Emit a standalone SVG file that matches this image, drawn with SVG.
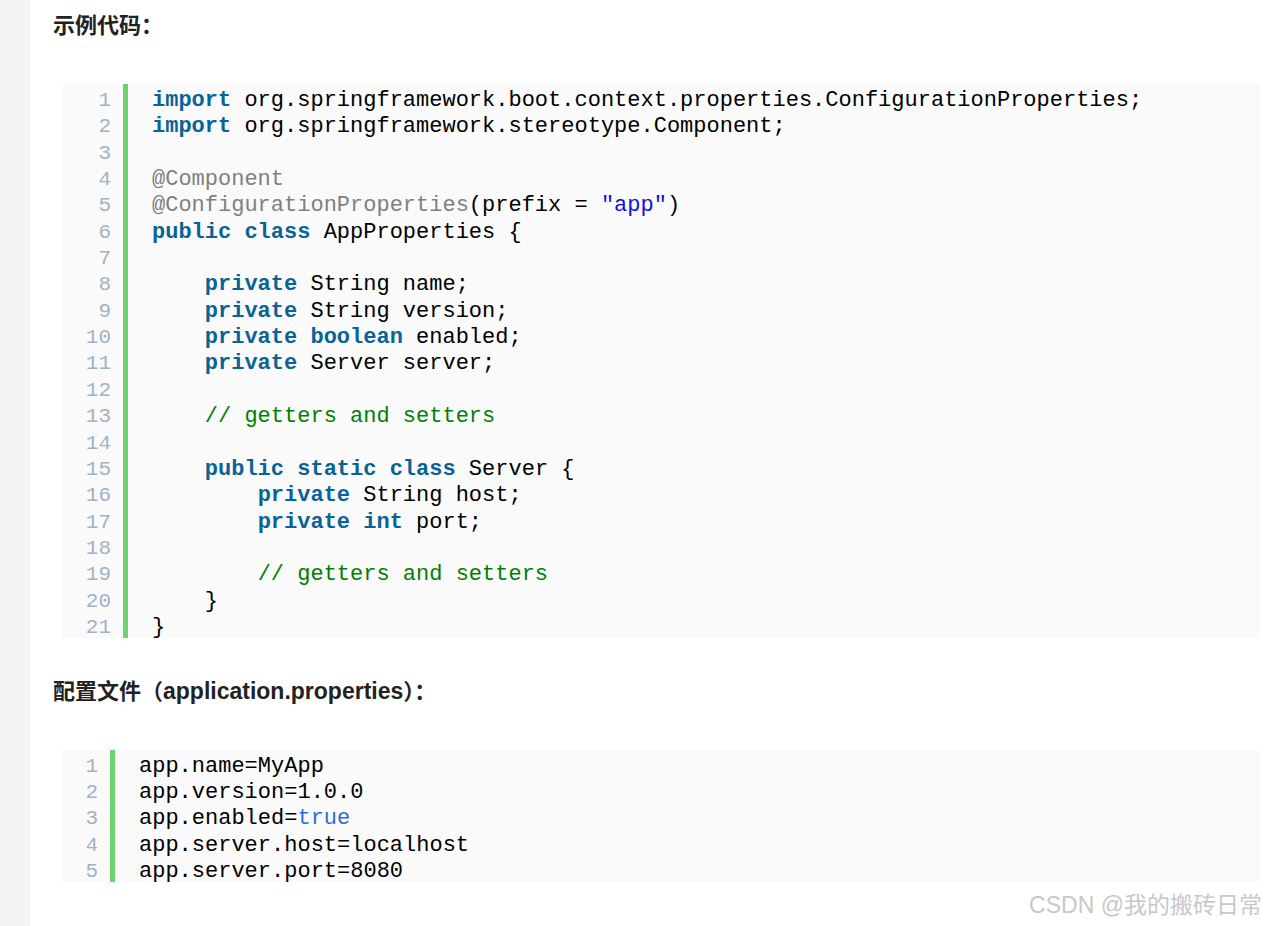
<svg xmlns="http://www.w3.org/2000/svg" width="1267" height="926" viewBox="0 0 1267 926">
<style>
.h{font-family:"Noto Sans CJK SC","Liberation Sans",sans-serif;font-weight:bold;font-size:22px;fill:#222}
.c{font-family:"Liberation Mono","DejaVu Sans Mono",monospace;font-size:22px;fill:#000;white-space:pre}
.n{font-family:"Liberation Mono",monospace;font-size:21px;fill:#9fb3c5;text-anchor:end}
.k{fill:#0a6395;font-weight:bold}
.a{fill:#808080}
.s{fill:#1010e0}
.g{fill:#008000}
.t{fill:#2a6fd0}
</style>
<rect width="1267" height="926" fill="#fff"/>
<rect width="30" height="926" fill="#f3f3f3"/>
<g id="heading1"><text class="h" x="53" y="33">示例代码：</text></g>
<g id="code1">
<rect x="62" y="84" width="1198" height="554" fill="#fafafa"/>
<rect x="123" y="84" width="5" height="554" fill="#6ed36e"/>
<g class="n">
<text x="111" y="106">1</text><text x="111" y="132">2</text><text x="111" y="159">3</text><text x="111" y="185">4</text><text x="111" y="211">5</text><text x="111" y="238">6</text><text x="111" y="264">7</text><text x="111" y="290">8</text><text x="111" y="317">9</text><text x="111" y="343">10</text><text x="111" y="369">11</text><text x="111" y="396">12</text><text x="111" y="422">13</text><text x="111" y="449">14</text><text x="111" y="475">15</text><text x="111" y="501">16</text><text x="111" y="528">17</text><text x="111" y="554">18</text><text x="111" y="580">19</text><text x="111" y="607">20</text><text x="111" y="633">21</text>
</g>
<text class="c" x="152" y="106"><tspan class="k">import</tspan> org.springframework.boot.context.properties.ConfigurationProperties;</text>
<text class="c" x="152" y="132"><tspan class="k">import</tspan> org.springframework.stereotype.Component;</text>
<text class="c" x="152" y="185"><tspan class="a">@Component</tspan></text>
<text class="c" x="152" y="211"><tspan class="a">@ConfigurationProperties</tspan>(prefix = <tspan class="s">"app"</tspan>)</text>
<text class="c" x="152" y="238"><tspan class="k">public</tspan> <tspan class="k">class</tspan> AppProperties {</text>
<text class="c" x="152" y="290">    <tspan class="k">private</tspan> String name;</text>
<text class="c" x="152" y="317">    <tspan class="k">private</tspan> String version;</text>
<text class="c" x="152" y="343">    <tspan class="k">private</tspan> <tspan class="k">boolean</tspan> enabled;</text>
<text class="c" x="152" y="369">    <tspan class="k">private</tspan> Server server;</text>
<text class="c" x="152" y="422">    <tspan class="g">// getters and setters</tspan></text>
<text class="c" x="152" y="475">    <tspan class="k">public</tspan> <tspan class="k">static</tspan> <tspan class="k">class</tspan> Server {</text>
<text class="c" x="152" y="501">        <tspan class="k">private</tspan> String host;</text>
<text class="c" x="152" y="528">        <tspan class="k">private</tspan> <tspan class="k">int</tspan> port;</text>
<text class="c" x="152" y="580">        <tspan class="g">// getters and setters</tspan></text>
<text class="c" x="152" y="607">    }</text>
<text class="c" x="152" y="633">}</text>
</g>
<g id="heading2"><text class="h" x="53" y="699">配置文件（<tspan font-family="Liberation Sans,sans-serif" font-size="23">application.properties</tspan>）：</text></g>
<g id="code2">
<rect x="62" y="750" width="1198" height="132" fill="#fafafa"/>
<rect x="110" y="750" width="5" height="132" fill="#6ed36e"/>
<g class="n">
<text x="98" y="772">1</text><text x="98" y="798">2</text><text x="98" y="824">3</text><text x="98" y="851">4</text><text x="98" y="877">5</text>
</g>
<text class="c" x="139" y="772">app.name=MyApp</text>
<text class="c" x="139" y="798">app.version=1.0.0</text>
<text class="c" x="139" y="824">app.enabled=<tspan class="t">true</tspan></text>
<text class="c" x="139" y="851">app.server.host=localhost</text>
<text class="c" x="139" y="877">app.server.port=8080</text>
</g>
<g id="watermark"><text x="1262" y="913" text-anchor="end" font-family="Liberation Sans,'Noto Sans CJK SC',sans-serif" font-size="23" fill="#c8c8c8">CSDN @我的搬砖日常</text></g>
</svg>
